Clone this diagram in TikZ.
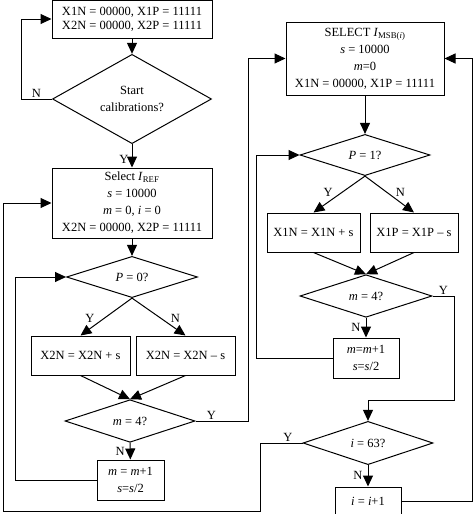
\documentclass[tikz,border=0pt]{standalone}
\usepackage{fontspec}
\setmainfont{Liberation Serif}
\usetikzlibrary{shapes.geometric,arrows.meta}
\begin{document}
\begin{tikzpicture}[x=1pt,y=-1pt,font=\fontsize{12.5}{17}\selectfont]

% definitions
\tikzstyle{process} = [rectangle, draw=black, line width=1pt, inner sep=0pt, align=center]

\tikzstyle{decision} = [diamond, draw=black, line width=1pt, inner sep=0pt, align=center]

\tikzstyle{arrow} = [line width=1pt, -{Triangle[length=11pt,width=10pt]}]

\tikzstyle{yn} = [inner sep=1pt]

\useasboundingbox (0,0) rectangle (474,514);
\clip (0,0) rectangle (474,514);

% the graph, left column
\node (init) [process, minimum width=160pt, minimum height=38pt, font=\fontsize{12.5}{14}\selectfont] at (132,19) {X1N = 00000, X1P = 11111\\X2N = 00000, X2P = 11111};

\node (start) [decision, minimum width=159pt, minimum height=72pt] at (132,99) {Start\\calibrations?};

\node (selref) [process, minimum width=160pt, minimum height=70pt] at (132,203) {Select \textit{I}\textsubscript{REF}\\\textit{s} = 10000\\\textit{m} = 0, \textit{i} = 0\\X2N = 00000, X2P = 11111};

\node (p0) [decision, minimum width=131pt, minimum height=38pt] at (132,277) {\textit{P} = 0?};

\node (addl) [process, minimum width=99pt, minimum height=39pt] at (80.5,355.5) {X2N = X2N + s};

\node (subl) [process, minimum width=99pt, minimum height=39pt] at (185.5,355.5) {X2N = X2N – s};

\node (m4l) [decision, minimum width=130pt, minimum height=38pt] at (130,421) {\textit{m} = 4?};

\node (incl) [process, minimum width=67pt, minimum height=40pt] at (130.5,480) {\textit{m} = \textit{m}+1\\\textit{s}=\textit{s}/2};

% right column
\node (selmsb) [process, minimum width=158pt, minimum height=73pt] at (365,58.5) {SELECT \textit{I}\textsubscript{MSB(\textit{i})}\\\textit{s} = 10000\\\textit{m}=0\\X1N = 00000, X1P = 11111};

\node (p1) [decision, minimum width=130pt, minimum height=39pt] at (365,155) {\textit{P} = 1?};

\node (addr) [process, minimum width=93pt, minimum height=39pt] at (313.5,232.5) {X1N = X1N + s};

\node (subr) [process, minimum width=88pt, minimum height=39pt] at (414,232.5) {X1P = X1P – s};

\node (m4r) [decision, minimum width=132pt, minimum height=38pt] at (366,296) {\textit{m} = 4?};

\node (incr) [process, minimum width=66pt, minimum height=40pt] at (366,358) {\textit{m}=\textit{m}+1\\\textit{s}=\textit{s}/2};

\node (i63) [decision, minimum width=130pt, minimum height=40pt] at (368,443) {\textit{i} = 63?};

\node (inci) [process, minimum width=66pt, minimum height=28pt] at (368,501) {\textit{i} = \textit{i}+1};


\draw [arrow] (init) -- (start);
\draw [arrow] (start.west) -- node[yn, above] {N} ++(-31,0) |- (init.west);
\draw [arrow] (start) -- node[yn, left=2pt, pos=0.65] {Y} (selref);
\draw [arrow] (selref) -- (p0);
\draw [arrow] (p0.south) -- node[yn, above left, pos=0.7] {Y} (addl.north);
\draw [arrow] (p0.south) -- node[yn, above right, pos=0.7] {N} (subl.north);
\draw [arrow] (addl.south) -- (m4l.north);
\draw [arrow] (subl.south) -- (m4l.north);
\draw [arrow] (m4l) -- node[yn, left=4pt] {N} (incl);
\draw [arrow] (incl.west) -- ++(-81,0) |- (p0.west);
\draw [arrow] (m4l.east) -- node[yn, above, pos=0.3] {Y} ++(53,0) |- (selmsb.west);

\draw [arrow] (selmsb) -- (p1);
\draw [arrow] (p1.south) -- node[yn, above left, pos=0.6] {Y} (addr.north);
\draw [arrow] (p1.south) -- node[yn, above right, pos=0.6] {N} (subr.north);
\draw [arrow] (addr.south) -- (m4r.north);
\draw [arrow] (subr.south) -- (m4r.north);
\draw [arrow] (m4r) -- node[yn, left=4pt] {N} (incr);
\draw [arrow] (incr.west) -- ++(-76,0) |- (p1.west);
\draw [arrow] (m4r.east) -- node[yn, above] {Y} ++(22,0) -- ++(0,104) -| (i63.north);
\draw [arrow] (i63) -- node[yn, left=4pt] {N} (inci);
\draw [arrow] (i63.west) -- node[yn, above, pos=0.35] {Y} ++(-42,0) |- (3,511.5) |- (selref.west);
\draw [arrow] (inci.east) -- ++(71,0) |- (selmsb.east);

\end{tikzpicture}
\end{document}
